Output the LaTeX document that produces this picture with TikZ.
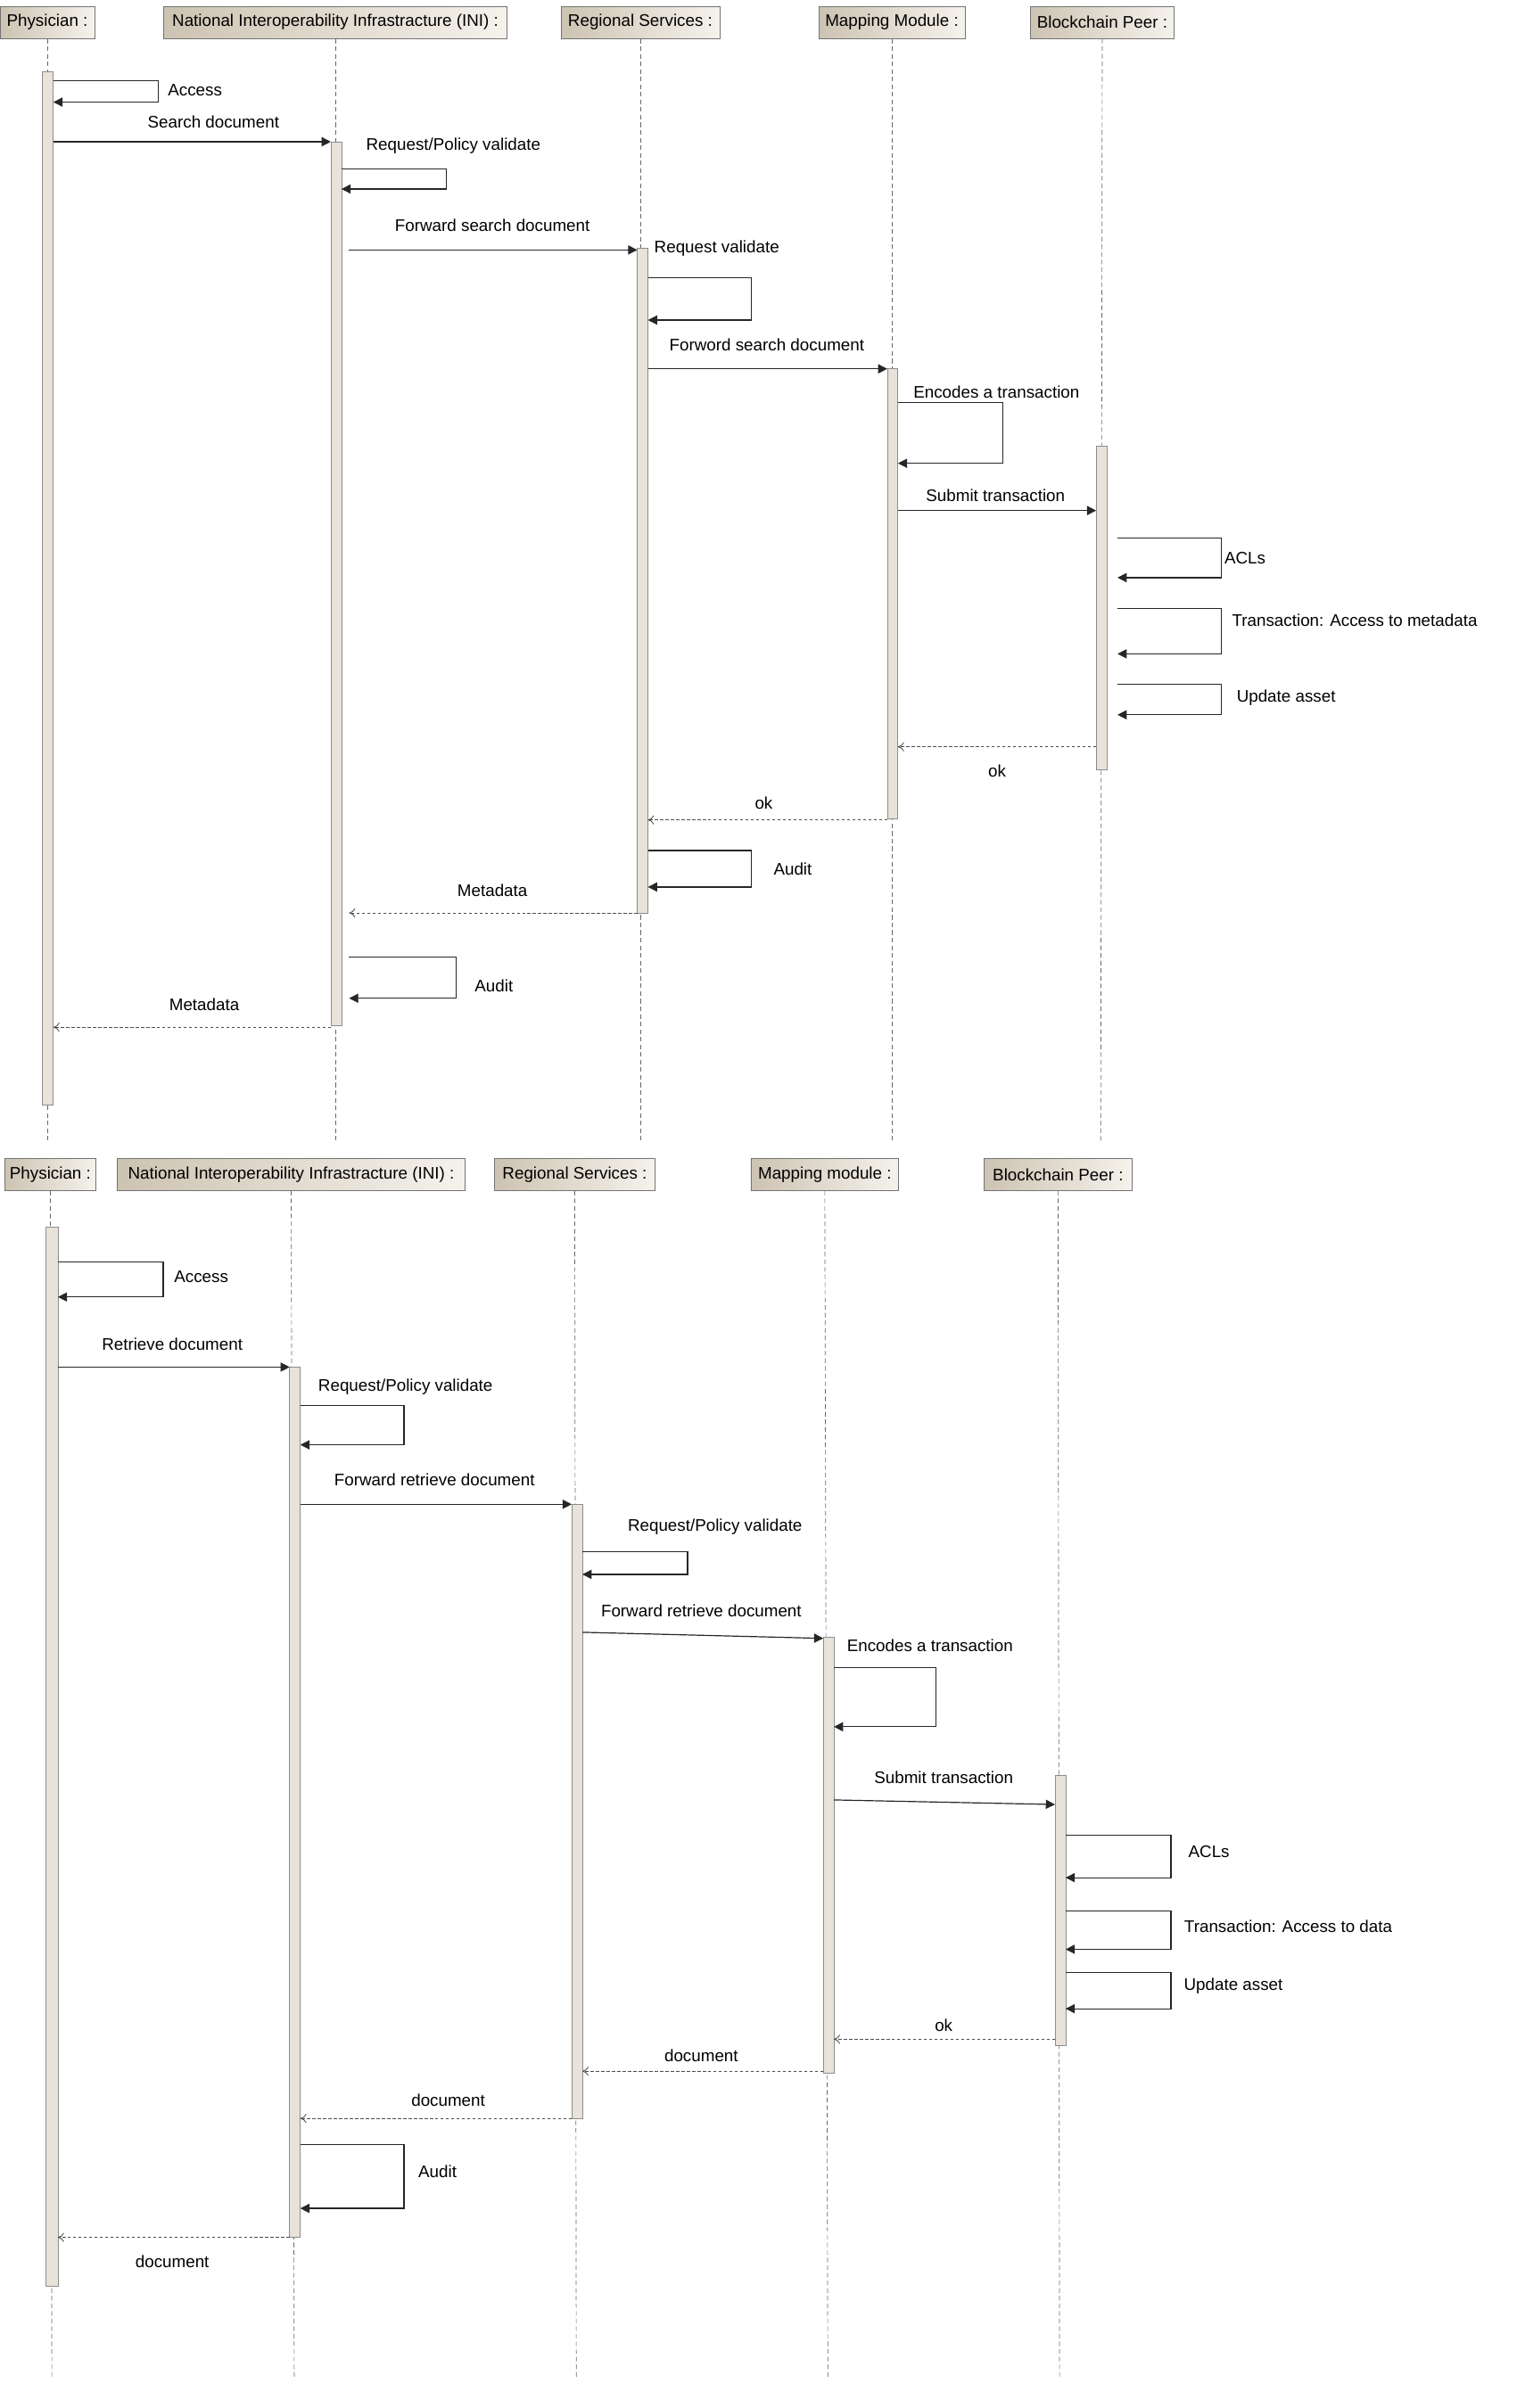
\documentclass[tikz,border=0pt]{standalone}
\usepackage{fontspec}
\setmainfont{Liberation Sans}
\usetikzlibrary{arrows.meta}
\tikzset{
  head/.style={draw=black!55,left color={rgb,255:red,205;green,195;blue,178},right color={rgb,255:red,245;green,242;blue,236},inner sep=0pt,minimum height=21pt,font=\fontsize{11}{12}\selectfont,anchor=north},
  life/.style={draw=black!60,dashed,dash pattern=on 3pt off 2pt,line width=0.4pt},
  bar/.style={draw=black!45,fill={rgb,255:red,232;green,226;blue,216},line width=0.5pt},
  call/.style={draw=black!85,line width=0.7pt,-{Triangle[length=6pt,width=6pt]}},
  ret/.style={draw=black!70,line width=0.5pt,dashed,dash pattern=on 2pt off 1.5pt,-{To[length=4pt,width=6pt]}},
  lbl/.style={font=\fontsize{11}{12}\selectfont,inner sep=0pt}
}
\newcommand{\myloop}[5]{%
  \coordinate (#5s) at (#1,#2); \coordinate (#5e) at (#1,#3);
  \draw[call] (#5s) -- (#4,#2) |- (#5e);}
\begin{document}
\begin{tikzpicture}[x=1pt,y=-1pt]
\useasboundingbox (0,0) rectangle (1000,1580);
% ===== TOP =====
\node[head,minimum width=62pt] (p1) at (31,4) {Physician :};
\node[head,minimum width=225pt] (n1) at (220,4) {National Interoperability Infrastracture (INI) :};
\node[head,minimum width=104pt] (r1) at (420,4) {Regional Services :};
\node[head,minimum width=96pt] (m1) at (585,4) {Mapping Module :};
\node[head,minimum width=94pt] (b1) at (723,4) {Blockchain Peer :};
\foreach \n/\x in {p1/31,n1/220,r1/420,m1/585,b1/722}{\draw[life] (\n.south) -- (\x,750);}
\draw[bar] (28,47) rectangle (35,725);
\draw[bar] (217,93) rectangle (224,673);
\draw[bar] (418,163) rectangle (425,599);
\draw[bar] (582,242) rectangle (589,537);
\draw[bar] (719,293) rectangle (726,505);
\myloop{35}{53}{67}{104}{a1}
\node[lbl,anchor=west] (la1) at (110,59) {Access};
\coordinate (s1a) at (35,93); \coordinate (s1b) at (217,93);
\draw[call] (s1a) -- (s1b); \node[lbl] (ls1) at (140,80) {Search document};
\node[lbl,anchor=west] (lr1) at (240,96) {Request/Policy validate};
\myloop{224}{111}{124}{293}{v1}
\coordinate (f1a) at (229,164); \coordinate (f1b) at (418,164);
\draw[call] (f1a) -- (f1b); \node[lbl] (lf1) at (323,148) {Forward search document};
\node[lbl,anchor=west] (lrv) at (429,163) {Request validate};
\myloop{425}{182}{210}{493}{v2}
\coordinate (f2a) at (425,242); \coordinate (f2b) at (582,242);
\draw[call] (f2a) -- (f2b); \node[lbl] (lf2) at (503,226) {Forword search document};
\node[lbl,anchor=west] (le1) at (599,257) {Encodes a transaction};
\myloop{589}{264}{304}{658}{e1}
\coordinate (t1a) at (589,335); \coordinate (t1b) at (719,335);
\draw[call] (t1a) -- (t1b); \node[lbl] (lt1) at (653,325) {Submit transaction};
\myloop{733}{353}{379}{801}{c1}
\node[lbl,anchor=west] (lc1) at (803,366) {ACLs};
\myloop{733}{399}{429}{801}{c2}
\node[lbl,anchor=west] (lc2) at (808,407) {Transaction: Access to metadata};
\myloop{733}{449}{469}{801}{c3}
\node[lbl,anchor=west] (lc3) at (811,458) {Update asset};
\coordinate (o1a) at (719,490); \coordinate (o1b) at (589,490);
\draw[ret] (o1a) -- (o1b); \node[lbl] (lo1) at (654,506) {ok};
\coordinate (o2a) at (582,538); \coordinate (o2b) at (425,538);
\draw[ret] (o2a) -- (o2b); \node[lbl] (lo2) at (501,527) {ok};
\myloop{425}{558}{582}{493}{au1}
\node[lbl] (lau1) at (520,570) {Audit};
\coordinate (md1a) at (418,599); \coordinate (md1b) at (229,599);
\draw[ret] (md1a) -- (md1b); \node[lbl] (lmd1) at (323,584) {Metadata};
\myloop{229}{628}{655}{299}{au2}
\node[lbl] (lau2) at (324,647) {Audit};
\coordinate (md2a) at (217,674); \coordinate (md2b) at (35,674);
\draw[ret] (md2a) -- (md2b); \node[lbl] (lmd2) at (134,659) {Metadata};
% ===== BOTTOM =====
\node[head,minimum width=60pt] (p2) at (33,760) {Physician :};
\node[head,minimum width=228pt] (n2) at (191,760) {National Interoperability Infrastracture (INI) :};
\node[head,minimum width=105pt] (r2) at (377,760) {Regional Services :};
\node[head,minimum width=97pt] (m2) at (541,760) {Mapping module :};
\node[head,minimum width=97pt] (b2) at (694,760) {Blockchain Peer :};
\foreach \n/\x in {p2/34,n2/193,r2/378,m2/543,b2/695}{\draw[life] (\n.south) -- (\x,1560);}
\draw[bar] (30,805) rectangle (38,1500);
\draw[bar] (190,897) rectangle (197,1468);
\draw[bar] (375,987) rectangle (382,1390);
\draw[bar] (540,1074) rectangle (547,1360);
\draw[bar] (692,1165) rectangle (699,1342);
\myloop{38}{828}{851}{107}{a2}
\node[lbl] (la2) at (132,838) {Access};
\coordinate (rt1a) at (38,897); \coordinate (rt1b) at (190,897);
\draw[call] (rt1a) -- (rt1b); \node[lbl] (lrt1) at (113,882) {Retrieve document};
\node[lbl] (lrp2) at (266,910) {Request/Policy validate};
\myloop{197}{922}{948}{265}{v3}
\coordinate (fr1a) at (197,987); \coordinate (fr1b) at (375,987);
\draw[call] (fr1a) -- (fr1b); \node[lbl] (lfr1) at (285,971) {Forward retrieve document};
\node[lbl] (lrp3) at (469,1002) {Request/Policy validate};
\myloop{382}{1018}{1033}{451}{v4}
\coordinate (fr2a) at (382,1071); \coordinate (fr2b) at (540,1075);
\draw[call] (fr2a) -- (fr2b); \node[lbl] (lfr2) at (460,1057) {Forward retrieve document};
\node[lbl] (le2) at (610,1080) {Encodes a transaction};
\myloop{547}{1094}{1133}{614}{e2}
\coordinate (t2a) at (547,1181); \coordinate (t2b) at (692,1184);
\draw[call] (t2a) -- (t2b); \node[lbl] (lt2) at (619,1166) {Submit transaction};
\myloop{699}{1204}{1232}{768}{c4}
\node[lbl] (lc4) at (793,1215) {ACLs};
\myloop{699}{1254}{1279}{768}{c5}
\node[lbl] (lc5) at (845,1264) {Transaction: Access to data};
\myloop{699}{1294}{1318}{768}{c6}
\node[lbl] (lc6) at (809,1303) {Update asset};
\coordinate (o3a) at (692,1338); \coordinate (o3b) at (547,1338);
\draw[ret] (o3a) -- (o3b); \node[lbl] (lo3) at (619,1329) {ok};
\coordinate (d1a) at (540,1359); \coordinate (d1b) at (382,1359);
\draw[ret] (d1a) -- (d1b); \node[lbl] (ld1) at (460,1349) {document};
\coordinate (d2a) at (375,1390); \coordinate (d2b) at (197,1390);
\draw[ret] (d2a) -- (d2b); \node[lbl] (ld2) at (294,1378) {document};
\myloop{197}{1407}{1449}{265}{au3}
\node[lbl] (lau3) at (287,1425) {Audit};
\coordinate (d3a) at (190,1468); \coordinate (d3b) at (38,1468);
\draw[ret] (d3a) -- (d3b); \node[lbl] (ld3) at (113,1484) {document};
\end{tikzpicture}
\end{document}
